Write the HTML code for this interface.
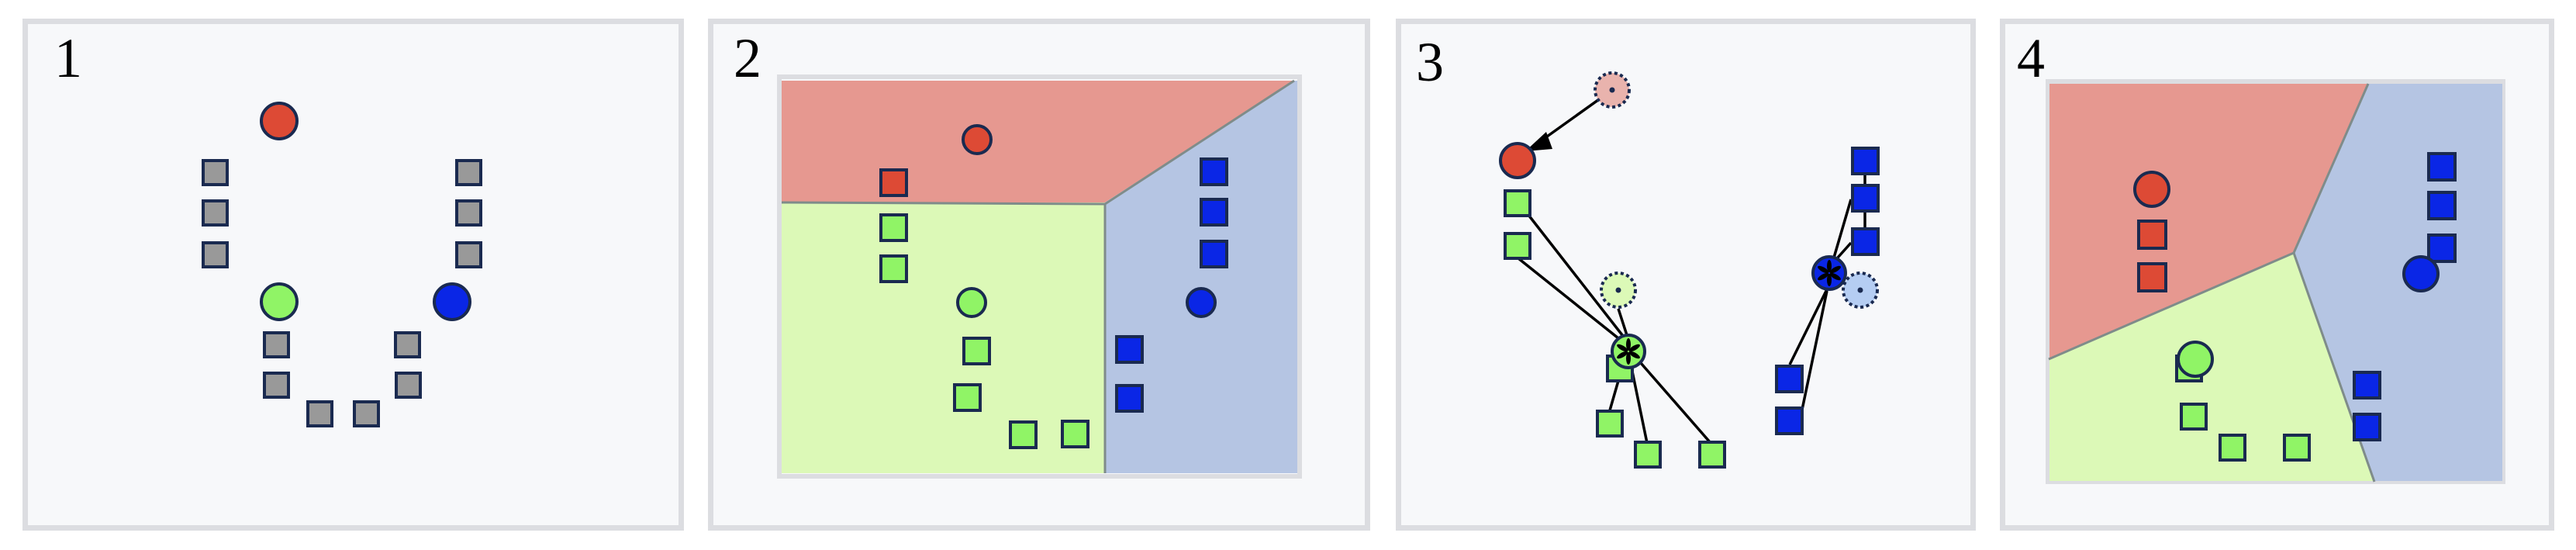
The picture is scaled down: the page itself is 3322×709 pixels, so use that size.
<!DOCTYPE html>
<html><head><meta charset="utf-8"><style>
html,body{margin:0;padding:0;background:#fff;}
svg{display:block;}
text{font-family:"Liberation Serif",serif;}
</style></head><body>
<svg width="3322" height="709" viewBox="0 0 3322 709" xmlns="http://www.w3.org/2000/svg">
<defs>
<marker id="ah" markerWidth="10" markerHeight="10" refX="9" refY="5" orient="auto" markerUnits="userSpaceOnUse" viewBox="0 0 10 10">
</marker>
<g id="ast" fill="#000">
 <g id="pet"><ellipse cx="0" cy="-9" rx="3" ry="8"/></g>
 <use href="#pet" transform="rotate(60)"/>
 <use href="#pet" transform="rotate(120)"/>
 <use href="#pet" transform="rotate(180)"/>
 <use href="#pet" transform="rotate(240)"/>
 <use href="#pet" transform="rotate(300)"/>
</g>
</defs>
<g stroke="#dcdde1" stroke-width="7" fill="#f7f8fa">
<rect x="32.5" y="27.5" width="846" height="653"/>
<rect x="916.5" y="27.5" width="847" height="653"/>
<rect x="1803.5" y="27.5" width="741" height="653"/>
<rect x="2582.5" y="27.5" width="708" height="653"/>
</g>
<g font-size="72" fill="#000">
<text x="70" y="99">1</text>
<text x="946" y="99">2</text>
<text x="1826" y="104">3</text>
<text x="2601" y="99">4</text>
</g>

<!-- Panel 1 -->
<g stroke="#1a2a50" stroke-width="4">
<circle cx="360" cy="156" r="23" fill="#dd4a35"/>
<circle cx="360" cy="389" r="23" fill="#90f466"/>
<circle cx="583" cy="389" r="23" fill="#0a26e6"/>
<g fill="#999">
<rect x="262" y="207" width="31" height="31"/><rect x="262" y="259" width="31" height="31"/><rect x="262" y="313" width="31" height="31"/>
<rect x="589" y="207" width="31" height="31"/><rect x="589" y="259" width="31" height="31"/><rect x="589" y="313" width="31" height="31"/>
<rect x="341" y="429" width="31" height="31"/><rect x="341" y="481" width="31" height="31"/>
<rect x="397" y="518" width="31" height="31"/><rect x="457" y="518" width="31" height="31"/>
<rect x="510" y="429" width="31" height="31"/><rect x="511" y="481" width="31" height="31"/>
</g>
</g>

<!-- Panel 2 -->
<rect x="1005" y="99" width="671" height="515" fill="none" stroke="#dcdde1" stroke-width="6"/>
<polygon points="1008,104 1669,104 1425,261 1008,261" fill="#e69890"/>
<polygon points="1008,261 1425,261 1425,610 1008,610" fill="#dcf9b7"/>
<polygon points="1425,261 1669,104 1673,104 1673,610 1425,610" fill="#b5c5e3"/>
<polyline points="1008,261 1425,263 1669,104" fill="none" stroke="#7f8c8a" stroke-width="3"/>
<line x1="1425" y1="263" x2="1425" y2="610" stroke="#7f8c8a" stroke-width="3"/>
<g stroke="#1a2a50" stroke-width="4">
<circle cx="1260" cy="180" r="18" fill="#dd4a35"/>
<circle cx="1253" cy="390" r="18" fill="#90f466"/>
<circle cx="1549" cy="390" r="18" fill="#0a26e6"/>
<rect x="1136" y="219" width="33" height="33" fill="#dd4a35"/>
<g fill="#90f466">
<rect x="1136" y="277" width="33" height="33"/><rect x="1136" y="330" width="33" height="33"/>
<rect x="1243" y="436" width="33" height="33"/><rect x="1231" y="496" width="33" height="33"/>
<rect x="1303" y="544" width="33" height="33"/><rect x="1370" y="543" width="33" height="33"/>
</g>
<g fill="#0a26e6">
<rect x="1549" y="205" width="33" height="33"/><rect x="1549" y="257" width="33" height="33"/><rect x="1549" y="311" width="33" height="33"/>
<rect x="1440" y="434" width="33" height="33"/><rect x="1440" y="497" width="33" height="33"/>
</g>
</g>

<!-- Panel 3 -->
<g stroke="#000" stroke-width="3.5" fill="none">
<line x1="2079" y1="116" x2="1988" y2="181"/>
<line x1="2096" y1="437" x2="1971" y2="277"/>
<line x1="2092" y1="440" x2="1958" y2="333"/>
<line x1="2098" y1="432" x2="2087" y2="398"/>
<line x1="2093" y1="470" x2="2076" y2="529"/>
<line x1="2104" y1="474" x2="2124" y2="571"/>
<line x1="2116" y1="468" x2="2206" y2="571"/>
<line x1="2405" y1="215" x2="2405" y2="300"/>
<line x1="2365" y1="332" x2="2387" y2="257"/>
<line x1="2370" y1="332" x2="2387" y2="313"/>
<line x1="2356" y1="373" x2="2308" y2="470"/>
<line x1="2356" y1="375" x2="2324" y2="528"/>
</g>
<polygon points="1967,195 1994,170 2002,192" fill="#000"/>
<circle cx="2079" cy="116" r="22" fill="#e9b3ad" stroke="#1a2a50" stroke-width="4" stroke-dasharray="4 3.6"/>
<circle cx="2079" cy="116" r="3.5" fill="#1a2a50"/>
<g stroke="#1a2a50" stroke-width="4">
<circle cx="1957" cy="207" r="22" fill="#dd4a35"/>
<g fill="#90f466">
<rect x="1941" y="246" width="32" height="32"/><rect x="1941" y="301" width="32" height="32"/>
<rect x="2073" y="459" width="32" height="32"/>
<rect x="2060" y="530" width="32" height="32"/><rect x="2109" y="570" width="32" height="32"/><rect x="2192" y="570" width="32" height="32"/>
</g>
<g fill="#0a26e6">
<rect x="2389" y="191" width="33" height="33"/><rect x="2389" y="239" width="33" height="33"/><rect x="2389" y="295" width="33" height="33"/>
<rect x="2291" y="472" width="33" height="33"/><rect x="2291" y="526" width="33" height="33"/>
</g>
<circle cx="2100" cy="453" r="21" fill="#90f466"/>
<circle cx="2359" cy="352" r="21" fill="#0a26e6"/>
</g>
<circle cx="2087" cy="374" r="22" fill="#dcf9b7" stroke="#1a2a50" stroke-width="4" stroke-dasharray="4 3.6"/>
<circle cx="2087" cy="374" r="3.5" fill="#1a2a50"/>
<circle cx="2399" cy="374" r="22" fill="#b5cdf2" stroke="#1a2a50" stroke-width="4" stroke-dasharray="4 3.6"/>
<circle cx="2399" cy="374" r="3.5" fill="#1a2a50"/>
<use href="#ast" x="2100" y="453"/>
<use href="#ast" x="2359" y="352"/>

<!-- Panel 4 -->
<rect x="2641" y="105" width="587" height="516" fill="none" stroke="#dcdde1" stroke-width="6"/>
<polygon points="2643,108 3054,108 2958,326 2643,463" fill="#e69890"/>
<polygon points="2643,463 2958,326 3062,620 2643,620" fill="#dcf9b7"/>
<polygon points="3054,108 3227,108 3227,620 3062,620 2958,326" fill="#b5c5e3"/>
<g stroke="#7f8c8a" stroke-width="3" fill="none">
<polyline points="2642,463 2958,326 3054,108"/>
<line x1="2958" y1="326" x2="3062" y2="621"/>
</g>
<g stroke="#1a2a50" stroke-width="4">
<circle cx="2775" cy="244" r="22" fill="#dd4a35"/>
<rect x="2758" y="285" width="35" height="35" fill="#dd4a35"/>
<rect x="2758" y="340" width="35" height="35" fill="#dd4a35"/>
<g fill="#0a26e6">
<rect x="3132" y="198" width="34" height="34"/><rect x="3132" y="248" width="34" height="34"/><rect x="3132" y="303" width="34" height="34"/>
<rect x="3036" y="480" width="33" height="33"/><rect x="3036" y="534" width="33" height="33"/>
<circle cx="3122" cy="353" r="22"/>
</g>
<g fill="#90f466">
<rect x="2807" y="459" width="32" height="32"/>
<circle cx="2831" cy="463" r="22"/>
<rect x="2813" y="521" width="32" height="32"/><rect x="2863" y="561" width="32" height="32"/><rect x="2946" y="561" width="32" height="32"/>
</g>
</g>
</svg>
</body></html>
